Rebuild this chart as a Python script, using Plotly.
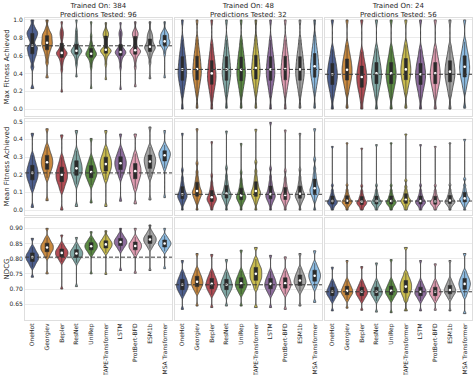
import numpy as np
import plotly.graph_objects as go
from plotly.subplots import make_subplots

MODELS = ["OneHot", "Georgiev", "Bepler", "ResNet", "UniRep", "TAPE-Transformer",
          "LSTM", "ProtBert-BFD", "ESM1b", "MSA Transformer"]
TRAIN_SIZES = [384, 48, 24]
TEST_SIZES = [96, 32, 56]
METRICS = ["Max Fitness Achieved", "Mean Fitness Achieved", "NDCG"]
COLORS = ["#4d5f8e", "#c9893f", "#b24d55", "#7fa6a3", "#5b8b43",
          "#c9bc4f", "#8c6c9c", "#e09db2", "#a3a3a3", "#8fbde3"]

# Each violin: 5%-step quantiles (min, p5 ... p95, max)
MAX_384 = [
    [0.23, 0.47, 0.54, 0.58, 0.605, 0.625, 0.645, 0.665, 0.685, 0.695, 0.71, 0.76, 0.79, 0.81, 0.83, 0.845, 0.86, 0.875, 0.895, 0.93, 1.0],
    [0.35, 0.52, 0.58, 0.62, 0.65, 0.67, 0.69, 0.705, 0.72, 0.735, 0.745, 0.76, 0.775, 0.79, 0.805, 0.82, 0.835, 0.85, 0.87, 0.91, 1.0],
    [0.19, 0.44, 0.50, 0.54, 0.565, 0.585, 0.60, 0.61, 0.62, 0.625, 0.63, 0.64, 0.65, 0.665, 0.685, 0.72, 0.79, 0.83, 0.855, 0.89, 0.98],
    [0.36, 0.50, 0.55, 0.585, 0.605, 0.62, 0.63, 0.64, 0.645, 0.65, 0.655, 0.665, 0.675, 0.685, 0.70, 0.72, 0.75, 0.79, 0.83, 0.88, 1.0],
    [0.23, 0.47, 0.52, 0.55, 0.57, 0.585, 0.595, 0.605, 0.61, 0.615, 0.62, 0.63, 0.64, 0.65, 0.66, 0.675, 0.69, 0.715, 0.75, 0.82, 0.98],
    [0.33, 0.50, 0.56, 0.60, 0.62, 0.63, 0.64, 0.65, 0.655, 0.66, 0.665, 0.675, 0.69, 0.74, 0.79, 0.815, 0.83, 0.845, 0.86, 0.885, 0.97],
    [0.22, 0.47, 0.53, 0.565, 0.59, 0.605, 0.615, 0.625, 0.63, 0.635, 0.64, 0.65, 0.66, 0.67, 0.685, 0.71, 0.77, 0.82, 0.845, 0.875, 0.97],
    [0.25, 0.47, 0.54, 0.58, 0.605, 0.62, 0.63, 0.64, 0.65, 0.655, 0.66, 0.67, 0.69, 0.73, 0.78, 0.81, 0.83, 0.845, 0.86, 0.885, 0.98],
    [0.34, 0.52, 0.58, 0.61, 0.635, 0.65, 0.665, 0.675, 0.685, 0.695, 0.70, 0.71, 0.725, 0.74, 0.76, 0.78, 0.80, 0.82, 0.84, 0.87, 0.98],
    [0.35, 0.62, 0.67, 0.695, 0.71, 0.72, 0.73, 0.74, 0.75, 0.755, 0.76, 0.77, 0.785, 0.80, 0.815, 0.825, 0.835, 0.845, 0.86, 0.885, 0.98],
]
MAX_48 = [
    [0.0, 0.165, 0.227, 0.269, 0.302, 0.330, 0.356, 0.380, 0.402, 0.424, 0.445, 0.470, 0.496, 0.522, 0.550, 0.580, 0.613, 0.652, 0.701, 0.774, 1.0],
    [0.01, 0.170, 0.232, 0.274, 0.307, 0.335, 0.361, 0.385, 0.407, 0.429, 0.450, 0.475, 0.501, 0.527, 0.555, 0.585, 0.618, 0.657, 0.706, 0.779, 1.0],
    [0.0, 0.120, 0.182, 0.224, 0.257, 0.285, 0.311, 0.335, 0.357, 0.379, 0.400, 0.425, 0.451, 0.477, 0.505, 0.535, 0.568, 0.607, 0.656, 0.729, 1.0],
    [0.01, 0.165, 0.227, 0.269, 0.302, 0.330, 0.356, 0.380, 0.402, 0.424, 0.445, 0.470, 0.496, 0.522, 0.550, 0.580, 0.613, 0.652, 0.701, 0.774, 1.0],
    [0.01, 0.160, 0.222, 0.264, 0.297, 0.325, 0.351, 0.375, 0.397, 0.419, 0.440, 0.465, 0.491, 0.517, 0.545, 0.575, 0.608, 0.647, 0.696, 0.769, 1.0],
    [0.01, 0.180, 0.242, 0.284, 0.317, 0.345, 0.371, 0.395, 0.417, 0.439, 0.460, 0.485, 0.511, 0.537, 0.565, 0.595, 0.628, 0.667, 0.716, 0.789, 1.0],
    [0.0, 0.165, 0.227, 0.269, 0.302, 0.330, 0.356, 0.380, 0.402, 0.424, 0.445, 0.470, 0.496, 0.522, 0.550, 0.580, 0.613, 0.652, 0.701, 0.774, 1.0],
    [0.0, 0.170, 0.232, 0.274, 0.307, 0.335, 0.361, 0.385, 0.407, 0.429, 0.450, 0.475, 0.501, 0.527, 0.555, 0.585, 0.618, 0.657, 0.706, 0.779, 1.0],
    [0.01, 0.165, 0.227, 0.269, 0.302, 0.330, 0.356, 0.380, 0.402, 0.424, 0.445, 0.470, 0.496, 0.522, 0.550, 0.580, 0.613, 0.652, 0.701, 0.774, 1.0],
    [0.01, 0.200, 0.262, 0.304, 0.337, 0.365, 0.391, 0.415, 0.437, 0.459, 0.480, 0.505, 0.531, 0.557, 0.585, 0.615, 0.648, 0.687, 0.736, 0.809, 1.0],
]
MAX_24 = [
    [0.0, 0.127, 0.185, 0.224, 0.255, 0.282, 0.306, 0.328, 0.350, 0.370, 0.390, 0.411, 0.433, 0.455, 0.479, 0.505, 0.533, 0.566, 0.608, 0.670, 1.0],
    [0.01, 0.177, 0.235, 0.274, 0.305, 0.332, 0.356, 0.378, 0.400, 0.420, 0.440, 0.461, 0.483, 0.505, 0.529, 0.555, 0.583, 0.616, 0.658, 0.720, 1.0],
    [0.0, 0.097, 0.155, 0.194, 0.225, 0.252, 0.276, 0.298, 0.320, 0.340, 0.360, 0.381, 0.403, 0.425, 0.449, 0.475, 0.503, 0.536, 0.578, 0.640, 1.0],
    [0.0, 0.137, 0.195, 0.234, 0.265, 0.292, 0.316, 0.338, 0.360, 0.380, 0.400, 0.421, 0.443, 0.465, 0.489, 0.515, 0.543, 0.576, 0.618, 0.680, 1.0],
    [0.0, 0.137, 0.195, 0.234, 0.265, 0.292, 0.316, 0.338, 0.360, 0.380, 0.400, 0.421, 0.443, 0.465, 0.489, 0.515, 0.543, 0.576, 0.618, 0.680, 1.0],
    [0.01, 0.182, 0.240, 0.279, 0.310, 0.337, 0.361, 0.383, 0.405, 0.425, 0.445, 0.466, 0.488, 0.510, 0.534, 0.560, 0.588, 0.621, 0.663, 0.725, 1.0],
    [0.0, 0.127, 0.185, 0.224, 0.255, 0.282, 0.306, 0.328, 0.350, 0.370, 0.390, 0.411, 0.433, 0.455, 0.479, 0.505, 0.533, 0.566, 0.608, 0.670, 1.0],
    [0.0, 0.137, 0.195, 0.234, 0.265, 0.292, 0.316, 0.338, 0.360, 0.380, 0.400, 0.421, 0.443, 0.465, 0.489, 0.515, 0.543, 0.576, 0.618, 0.680, 1.0],
    [0.0, 0.157, 0.215, 0.254, 0.285, 0.312, 0.336, 0.358, 0.380, 0.400, 0.420, 0.441, 0.463, 0.485, 0.509, 0.535, 0.563, 0.596, 0.638, 0.700, 1.0],
    [0.01, 0.212, 0.270, 0.309, 0.340, 0.367, 0.391, 0.413, 0.435, 0.455, 0.475, 0.496, 0.518, 0.540, 0.564, 0.590, 0.618, 0.651, 0.693, 0.755, 1.0],
]
MEAN_384 = [
    [0.015, 0.120, 0.139, 0.153, 0.164, 0.173, 0.181, 0.189, 0.196, 0.203, 0.210, 0.218, 0.225, 0.233, 0.241, 0.250, 0.261, 0.272, 0.287, 0.309, 0.434],
    [0.053, 0.180, 0.199, 0.213, 0.224, 0.233, 0.241, 0.249, 0.256, 0.263, 0.270, 0.277, 0.284, 0.291, 0.299, 0.307, 0.316, 0.327, 0.341, 0.360, 0.46],
    [0.0, 0.110, 0.129, 0.143, 0.154, 0.163, 0.171, 0.179, 0.186, 0.193, 0.200, 0.208, 0.215, 0.223, 0.231, 0.240, 0.251, 0.262, 0.277, 0.299, 0.425],
    [0.02, 0.146, 0.165, 0.179, 0.190, 0.199, 0.207, 0.215, 0.222, 0.229, 0.236, 0.244, 0.251, 0.259, 0.267, 0.276, 0.287, 0.298, 0.313, 0.335, 0.45],
    [0.04, 0.141, 0.157, 0.168, 0.177, 0.185, 0.191, 0.198, 0.204, 0.209, 0.215, 0.221, 0.228, 0.234, 0.241, 0.249, 0.257, 0.267, 0.279, 0.297, 0.405],
    [0.02, 0.170, 0.189, 0.203, 0.214, 0.223, 0.231, 0.239, 0.246, 0.253, 0.260, 0.267, 0.274, 0.281, 0.289, 0.297, 0.306, 0.317, 0.331, 0.350, 0.45],
    [0.05, 0.183, 0.201, 0.213, 0.223, 0.231, 0.239, 0.246, 0.252, 0.259, 0.265, 0.271, 0.278, 0.284, 0.291, 0.299, 0.307, 0.317, 0.329, 0.347, 0.43],
    [0.035, 0.121, 0.143, 0.158, 0.169, 0.180, 0.189, 0.197, 0.205, 0.212, 0.220, 0.228, 0.235, 0.243, 0.251, 0.260, 0.271, 0.282, 0.297, 0.319, 0.43],
    [0.057, 0.185, 0.204, 0.218, 0.229, 0.238, 0.246, 0.254, 0.261, 0.268, 0.275, 0.281, 0.288, 0.294, 0.301, 0.309, 0.317, 0.327, 0.339, 0.357, 0.47],
    [0.07, 0.236, 0.252, 0.263, 0.272, 0.280, 0.286, 0.293, 0.299, 0.304, 0.310, 0.314, 0.319, 0.323, 0.328, 0.334, 0.339, 0.346, 0.355, 0.368, 0.45],
]
MEAN_48 = [
    [0.0, 0.031, 0.044, 0.053, 0.060, 0.065, 0.071, 0.076, 0.080, 0.085, 0.089, 0.095, 0.102, 0.110, 0.119, 0.129, 0.142, 0.158, 0.182, 0.225, 0.434],
    [0.0, 0.041, 0.056, 0.066, 0.074, 0.080, 0.087, 0.093, 0.098, 0.104, 0.108, 0.115, 0.123, 0.132, 0.143, 0.154, 0.169, 0.187, 0.215, 0.264, 0.46],
    [0.0, 0.020, 0.031, 0.040, 0.046, 0.050, 0.056, 0.060, 0.064, 0.068, 0.072, 0.077, 0.084, 0.091, 0.099, 0.108, 0.120, 0.134, 0.156, 0.194, 0.387],
    [0.0, 0.033, 0.047, 0.056, 0.064, 0.069, 0.075, 0.080, 0.085, 0.090, 0.094, 0.100, 0.108, 0.116, 0.126, 0.136, 0.150, 0.166, 0.192, 0.237, 0.447],
    [0.0, 0.028, 0.040, 0.049, 0.055, 0.060, 0.066, 0.071, 0.074, 0.079, 0.083, 0.089, 0.095, 0.103, 0.111, 0.121, 0.133, 0.149, 0.171, 0.212, 0.377],
    [0.0, 0.038, 0.054, 0.065, 0.073, 0.079, 0.086, 0.092, 0.097, 0.103, 0.108, 0.115, 0.124, 0.133, 0.144, 0.156, 0.172, 0.191, 0.220, 0.271, 0.457],
    [0.0, 0.029, 0.043, 0.052, 0.060, 0.065, 0.071, 0.076, 0.081, 0.086, 0.090, 0.096, 0.104, 0.112, 0.122, 0.132, 0.146, 0.162, 0.188, 0.233, 0.496],
    [0.0, 0.027, 0.040, 0.049, 0.056, 0.061, 0.067, 0.072, 0.076, 0.081, 0.085, 0.091, 0.098, 0.106, 0.115, 0.125, 0.138, 0.154, 0.178, 0.221, 0.453],
    [0.0, 0.034, 0.047, 0.056, 0.063, 0.068, 0.074, 0.079, 0.083, 0.088, 0.092, 0.098, 0.105, 0.113, 0.122, 0.132, 0.145, 0.161, 0.185, 0.228, 0.434],
    [0.0, 0.053, 0.069, 0.080, 0.088, 0.094, 0.101, 0.107, 0.112, 0.118, 0.123, 0.130, 0.139, 0.148, 0.159, 0.171, 0.187, 0.206, 0.235, 0.286, 0.46],
]
MEAN_24 = [
    [0.0, 0.013, 0.022, 0.028, 0.032, 0.035, 0.039, 0.043, 0.045, 0.048, 0.051, 0.055, 0.059, 0.065, 0.071, 0.077, 0.085, 0.096, 0.111, 0.139, 0.36],
    [0.0, 0.015, 0.024, 0.030, 0.034, 0.037, 0.041, 0.045, 0.047, 0.050, 0.053, 0.057, 0.061, 0.067, 0.073, 0.079, 0.087, 0.098, 0.113, 0.141, 0.38],
    [0.0, 0.010, 0.019, 0.025, 0.029, 0.032, 0.036, 0.040, 0.042, 0.045, 0.048, 0.052, 0.056, 0.062, 0.068, 0.074, 0.082, 0.093, 0.108, 0.136, 0.35],
    [0.0, 0.013, 0.022, 0.028, 0.032, 0.035, 0.039, 0.043, 0.045, 0.048, 0.051, 0.055, 0.059, 0.065, 0.071, 0.077, 0.085, 0.096, 0.111, 0.139, 0.37],
    [0.0, 0.013, 0.022, 0.028, 0.032, 0.035, 0.039, 0.043, 0.045, 0.048, 0.051, 0.055, 0.059, 0.065, 0.071, 0.077, 0.085, 0.096, 0.111, 0.139, 0.38],
    [0.0, 0.012, 0.022, 0.029, 0.035, 0.039, 0.044, 0.048, 0.051, 0.055, 0.058, 0.063, 0.068, 0.075, 0.082, 0.090, 0.100, 0.113, 0.132, 0.167, 0.43],
    [0.0, 0.013, 0.022, 0.028, 0.032, 0.035, 0.039, 0.043, 0.045, 0.048, 0.051, 0.055, 0.059, 0.065, 0.071, 0.077, 0.085, 0.096, 0.111, 0.139, 0.37],
    [0.0, 0.012, 0.021, 0.027, 0.031, 0.034, 0.038, 0.042, 0.044, 0.047, 0.050, 0.054, 0.058, 0.064, 0.070, 0.076, 0.084, 0.095, 0.110, 0.138, 0.36],
    [0.0, 0.016, 0.025, 0.031, 0.035, 0.038, 0.042, 0.046, 0.048, 0.051, 0.054, 0.058, 0.062, 0.068, 0.074, 0.080, 0.088, 0.099, 0.114, 0.142, 0.38],
    [0.0, 0.020, 0.030, 0.037, 0.043, 0.047, 0.052, 0.056, 0.059, 0.063, 0.066, 0.071, 0.076, 0.083, 0.090, 0.098, 0.108, 0.121, 0.140, 0.175, 0.40],
]
NDCG_384 = [
    [0.739, 0.772, 0.779, 0.784, 0.788, 0.792, 0.795, 0.797, 0.800, 0.802, 0.805, 0.808, 0.810, 0.813, 0.815, 0.818, 0.822, 0.826, 0.831, 0.838, 0.867],
    [0.75, 0.804, 0.811, 0.816, 0.820, 0.824, 0.827, 0.829, 0.832, 0.834, 0.837, 0.840, 0.842, 0.845, 0.847, 0.850, 0.854, 0.858, 0.863, 0.870, 0.90],
    [0.70, 0.789, 0.796, 0.800, 0.804, 0.807, 0.810, 0.812, 0.814, 0.817, 0.819, 0.821, 0.824, 0.826, 0.828, 0.831, 0.834, 0.838, 0.842, 0.849, 0.878],
    [0.708, 0.787, 0.794, 0.798, 0.802, 0.805, 0.808, 0.810, 0.812, 0.815, 0.817, 0.819, 0.822, 0.824, 0.826, 0.829, 0.832, 0.836, 0.840, 0.847, 0.87],
    [0.75, 0.813, 0.819, 0.823, 0.827, 0.830, 0.832, 0.834, 0.837, 0.839, 0.841, 0.843, 0.845, 0.848, 0.850, 0.852, 0.855, 0.859, 0.863, 0.869, 0.889],
    [0.748, 0.819, 0.825, 0.829, 0.833, 0.836, 0.838, 0.840, 0.843, 0.845, 0.847, 0.849, 0.851, 0.854, 0.856, 0.858, 0.861, 0.865, 0.869, 0.875, 0.892],
    [0.761, 0.827, 0.833, 0.837, 0.841, 0.844, 0.846, 0.848, 0.851, 0.853, 0.855, 0.857, 0.859, 0.862, 0.864, 0.866, 0.869, 0.873, 0.877, 0.883, 0.90],
    [0.752, 0.812, 0.819, 0.823, 0.827, 0.830, 0.833, 0.835, 0.837, 0.840, 0.842, 0.844, 0.847, 0.849, 0.851, 0.854, 0.857, 0.861, 0.865, 0.872, 0.90],
    [0.761, 0.833, 0.840, 0.844, 0.848, 0.851, 0.854, 0.856, 0.858, 0.861, 0.863, 0.865, 0.868, 0.870, 0.872, 0.875, 0.878, 0.882, 0.886, 0.893, 0.911],
    [0.767, 0.824, 0.829, 0.833, 0.837, 0.839, 0.842, 0.844, 0.846, 0.848, 0.850, 0.852, 0.854, 0.856, 0.858, 0.861, 0.863, 0.867, 0.871, 0.876, 0.90],
]
NDCG_48 = [
    [0.633, 0.678, 0.686, 0.691, 0.695, 0.699, 0.702, 0.706, 0.708, 0.711, 0.714, 0.717, 0.720, 0.724, 0.727, 0.731, 0.735, 0.740, 0.746, 0.755, 0.794],
    [0.644, 0.688, 0.696, 0.701, 0.705, 0.709, 0.712, 0.716, 0.718, 0.721, 0.724, 0.727, 0.730, 0.734, 0.737, 0.741, 0.745, 0.750, 0.756, 0.765, 0.817],
    [0.639, 0.681, 0.689, 0.694, 0.698, 0.702, 0.705, 0.709, 0.711, 0.714, 0.717, 0.720, 0.723, 0.727, 0.730, 0.734, 0.738, 0.743, 0.749, 0.758, 0.814],
    [0.644, 0.678, 0.686, 0.691, 0.695, 0.699, 0.702, 0.706, 0.708, 0.711, 0.714, 0.717, 0.720, 0.724, 0.727, 0.731, 0.735, 0.740, 0.746, 0.755, 0.797],
    [0.644, 0.683, 0.691, 0.696, 0.700, 0.704, 0.707, 0.711, 0.713, 0.716, 0.719, 0.722, 0.725, 0.729, 0.732, 0.736, 0.740, 0.745, 0.751, 0.760, 0.828],
    [0.639, 0.701, 0.712, 0.719, 0.725, 0.730, 0.734, 0.738, 0.742, 0.746, 0.750, 0.754, 0.758, 0.762, 0.766, 0.770, 0.775, 0.781, 0.788, 0.799, 0.837],
    [0.639, 0.681, 0.689, 0.694, 0.698, 0.702, 0.705, 0.709, 0.711, 0.714, 0.717, 0.720, 0.723, 0.727, 0.730, 0.734, 0.738, 0.743, 0.749, 0.758, 0.811],
    [0.633, 0.683, 0.691, 0.696, 0.700, 0.704, 0.707, 0.711, 0.713, 0.716, 0.719, 0.722, 0.725, 0.729, 0.732, 0.736, 0.740, 0.745, 0.751, 0.760, 0.806],
    [0.644, 0.692, 0.700, 0.705, 0.709, 0.713, 0.716, 0.720, 0.722, 0.725, 0.728, 0.731, 0.734, 0.738, 0.741, 0.745, 0.749, 0.754, 0.760, 0.769, 0.817],
    [0.656, 0.703, 0.712, 0.718, 0.723, 0.727, 0.731, 0.734, 0.738, 0.741, 0.744, 0.747, 0.750, 0.754, 0.757, 0.761, 0.765, 0.770, 0.776, 0.785, 0.826],
]
NDCG_24 = [
    [0.628, 0.661, 0.668, 0.672, 0.676, 0.679, 0.682, 0.684, 0.686, 0.689, 0.691, 0.694, 0.696, 0.699, 0.702, 0.705, 0.709, 0.713, 0.718, 0.726, 0.772],
    [0.637, 0.664, 0.671, 0.675, 0.679, 0.682, 0.685, 0.687, 0.689, 0.692, 0.694, 0.697, 0.699, 0.702, 0.705, 0.708, 0.712, 0.716, 0.721, 0.729, 0.794],
    [0.63, 0.661, 0.668, 0.672, 0.676, 0.679, 0.682, 0.684, 0.686, 0.689, 0.691, 0.694, 0.696, 0.699, 0.702, 0.705, 0.709, 0.713, 0.718, 0.726, 0.774],
    [0.624, 0.661, 0.668, 0.672, 0.676, 0.679, 0.682, 0.684, 0.686, 0.689, 0.691, 0.694, 0.696, 0.699, 0.702, 0.705, 0.709, 0.713, 0.718, 0.726, 0.786],
    [0.622, 0.664, 0.671, 0.675, 0.679, 0.682, 0.685, 0.687, 0.689, 0.692, 0.694, 0.697, 0.699, 0.702, 0.705, 0.708, 0.712, 0.716, 0.721, 0.729, 0.797],
    [0.628, 0.662, 0.672, 0.679, 0.684, 0.689, 0.693, 0.697, 0.701, 0.704, 0.708, 0.712, 0.715, 0.719, 0.723, 0.727, 0.732, 0.737, 0.744, 0.754, 0.837],
    [0.628, 0.661, 0.668, 0.672, 0.676, 0.679, 0.682, 0.684, 0.686, 0.689, 0.691, 0.694, 0.696, 0.699, 0.702, 0.705, 0.709, 0.713, 0.718, 0.726, 0.794],
    [0.63, 0.661, 0.668, 0.672, 0.676, 0.679, 0.682, 0.684, 0.686, 0.689, 0.691, 0.694, 0.696, 0.699, 0.702, 0.705, 0.709, 0.713, 0.718, 0.726, 0.783],
    [0.628, 0.667, 0.674, 0.678, 0.682, 0.685, 0.688, 0.690, 0.692, 0.695, 0.697, 0.700, 0.702, 0.705, 0.708, 0.711, 0.715, 0.719, 0.724, 0.732, 0.794],
    [0.619, 0.676, 0.685, 0.691, 0.696, 0.700, 0.704, 0.707, 0.711, 0.714, 0.717, 0.720, 0.723, 0.727, 0.730, 0.734, 0.738, 0.743, 0.749, 0.758, 0.817],
]

PANELS = [[MAX_384, MAX_48, MAX_24],
          [MEAN_384, MEAN_48, MEAN_24],
          [NDCG_384, NDCG_48, NDCG_24]]

# ---- style ----
FONT = "DejaVu Sans"
W, H = 474, 375
BW = [[0.025, 0.045, 0.04], [0.014, 0.011, 0.007], [0.0055, 0.0065, 0.0055]]
VW = [[0.72, 0.58, 0.68], [0.78, 0.64, 0.68], [0.85, 0.8, 0.78]]
Y_RANGES = [[-0.078, 1.022], [-0.028, 0.515], [0.598, 0.934]]
Y_TICKS = [[0, 0.2, 0.4, 0.6, 0.8, 1.0], [0, 0.1, 0.2, 0.3, 0.4, 0.5],
           [0.65, 0.70, 0.75, 0.80, 0.85, 0.90]]
Y_FMT = [".1f", ".1f", ".2f"]
COL_PX = [(25, 172), (175, 322), (325, 472)]
ROW_PX = [(18, 116), (119, 215), (218, 320)]

fig = make_subplots(rows=3, cols=3)

for r in range(3):
    for c in range(3):
        panel = PANELS[r][c]
        for i, vals in enumerate(panel):
            fig.add_trace(go.Violin(
                x=[MODELS[i]] * len(vals), y=vals,
                fillcolor=COLORS[i], opacity=1,
                line=dict(color="#3c3c3c", width=0.8),
                box=dict(visible=True, width=0.3, fillcolor="#2b2b2b",
                         line=dict(color="#2b2b2b", width=0.6)),
                meanline=dict(visible=False), points=False,
                spanmode="hard", bandwidth=BW[r][c], width=VW[r][c],
                scalemode="width", showlegend=False, hoverinfo="skip"),
                row=r + 1, col=c + 1)
            fig.add_trace(go.Scatter(
                x=[MODELS[i]], y=[float(np.median(vals))], mode="markers",
                marker=dict(color="white", size=2.6, line=dict(width=0)),
                showlegend=False, hoverinfo="skip"), row=r + 1, col=c + 1)
        fig.add_hline(y=float(np.median(panel[0])), row=r + 1, col=c + 1,
                      line=dict(color="#3a3a3a", width=1, dash="4px,2px"))

for r in range(3):
    for c in range(3):
        idx = r * 3 + c + 1
        xa = fig.layout["xaxis" if idx == 1 else f"xaxis{idx}"]
        ya = fig.layout["yaxis" if idx == 1 else f"yaxis{idx}"]
        x0, x1 = COL_PX[c]
        y0, y1 = ROW_PX[r]
        xa.update(domain=[x0 / W, x1 / W], type="category",
                  categoryorder="array", categoryarray=MODELS,
                  range=[-0.5, len(MODELS) - 0.5],
                  showgrid=False, zeroline=False, showline=True, mirror=True,
                  linecolor="#dedede", linewidth=1, ticks="",
                  showticklabels=(r == 2), tickangle=-90,
                  tickfont=dict(family=FONT, size=6, color="#262626"),
                  automargin=False)
        ya.update(domain=[1 - y1 / H, 1 - y0 / H], range=Y_RANGES[r],
                  tickvals=Y_TICKS[r], tickformat=Y_FMT[r],
                  showgrid=True, gridcolor="#ebebeb", gridwidth=1,
                  zeroline=False, showline=True, mirror=True,
                  linecolor="#dedede", linewidth=1, ticks="",
                  showticklabels=(c == 0),
                  tickfont=dict(family=FONT, size=6, color="#262626"),
                  automargin=False)

annotations = []
for c in range(3):
    x0, x1 = COL_PX[c]
    annotations.append(dict(
        x=(x0 + x1) / 2 / W, y=1 - 0.5 / H, xref="paper", yref="paper",
        xanchor="center", yanchor="top", showarrow=False,
        text=f"Trained On: {TRAIN_SIZES[c]}<br>Predictions Tested: {TEST_SIZES[c]}",
        font=dict(family=FONT, size=7, color="#262626")))
for r in range(3):
    y0, y1 = ROW_PX[r]
    annotations.append(dict(
        x=6.5 / W, y=1 - (y0 + y1) / 2 / H, xref="paper", yref="paper",
        xanchor="center", yanchor="middle", showarrow=False, textangle=-90,
        text=METRICS[r], font=dict(family=FONT, size=7, color="#262626")))

fig.update_layout(
    template="none", width=W, height=H,
    margin=dict(l=0, r=0, t=0, b=0),
    paper_bgcolor="white", plot_bgcolor="white",
    violinmode="overlay", showlegend=False,
    font=dict(family=FONT, size=7, color="#262626"),
    annotations=annotations)

fig.write_html("out.html")
